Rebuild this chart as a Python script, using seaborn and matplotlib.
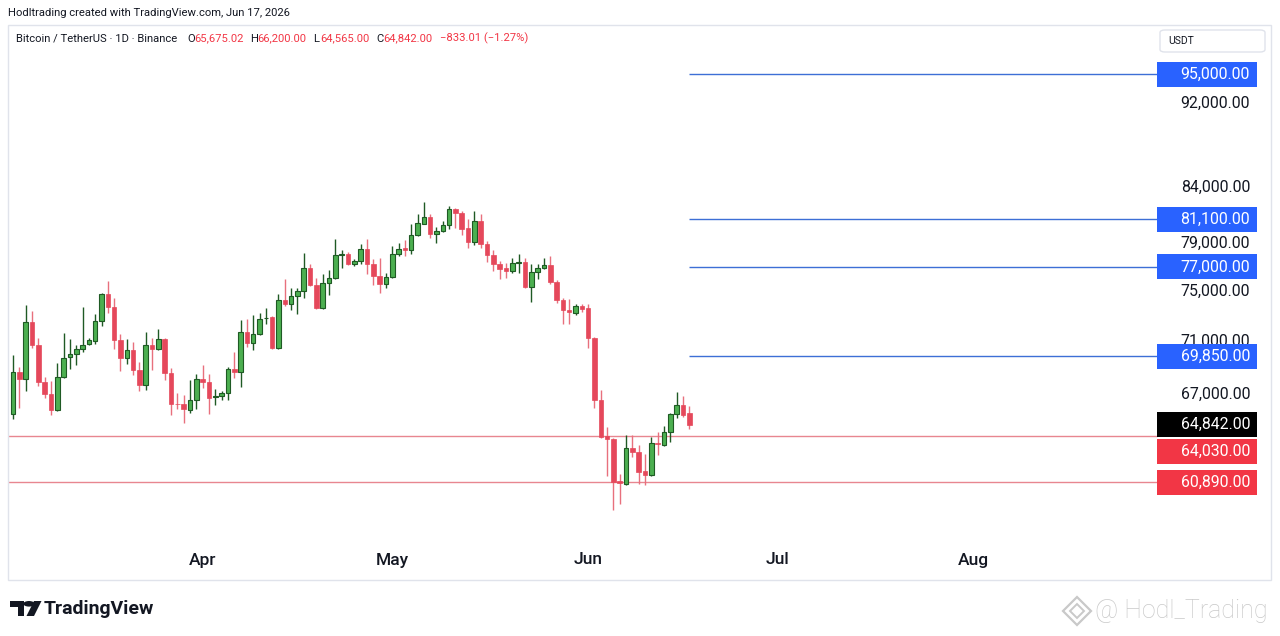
import numpy as np
import pandas as pd
import matplotlib
matplotlib.use("Agg")
import matplotlib.pyplot as plt
import matplotlib.dates as mdates
from matplotlib.patches import Rectangle, FancyBboxPatch, Polygon, Circle
import seaborn as sns

sns.set_theme(style="white")
plt.rcParams['font.family'] = ['Roboto', 'DejaVu Sans']

# ---------------- data ----------------
START_DATE = "2026-03-02"
opens = [65630, 68690, 68170, 72520, 70730, 67950, 67070, 65850, 68320, 69820,
         70040, 70430, 70810, 71040, 72600, 74750, 73710, 71120, 69740, 70350,
         68840, 67730, 70730, 70430, 71190, 68620, 66350, 66280, 65900, 66640,
         68170, 67950, 66800, 66860, 67150, 68920, 68690, 71740, 70880, 71580,
         72800, 72910, 70500, 74270, 73950, 74590, 75000, 76890, 75480, 73630,
         75650, 76060, 77990, 78060, 77220, 77470, 78490, 77220, 76220, 75570,
         76140, 78060, 78570, 78400, 79690, 80650, 81260, 79780, 80040, 80560,
         81970, 81610, 80300, 79090, 80910, 78920, 77980, 77220, 76890, 76640,
         77330, 77390, 75320, 76560, 76890, 77140, 75730, 74270, 73470, 73230,
         73790, 73600, 71270, 66640, 64020, 63810, 60960, 60770, 63190, 62910,
         61630, 61360, 63530, 63390, 64290, 65630, 66210, 65675.02]
highs = [69970, 69060, 73870, 73390, 71270, 68320, 68030, 69370, 71660, 71190,
         70730, 73710, 71270, 73150, 74800, 75810, 74430, 71580, 71190, 70960,
         69440, 71740, 71270, 71970, 71270, 68990, 67150, 67000, 68100, 68540,
         69210, 68540, 67440, 67290, 69060, 70200, 72670, 72750, 73070, 73230,
         73630, 72990, 74750, 75980, 75240, 75240, 78150, 77220, 76060, 76390,
         76720, 79340, 78400, 78230, 77640, 78920, 79340, 77640, 77730, 76470,
         78740, 79000, 79260, 80650, 81520, 82680, 81520, 80380, 80910, 82320,
         82140, 81790, 81080, 81790, 81520, 79170, 78400, 77470, 77310, 77730,
         78060, 77730, 77220, 77220, 77730, 77900, 75900, 74430, 74350, 73950,
         73950, 73950, 71350, 67370, 64650, 63880, 61430, 64090, 64090, 63390,
         62780, 63950, 64290, 64710, 65700, 67220, 66860, 66200.00]
lows = [65210, 66060, 67290, 70500, 67660, 66780, 65560, 65780, 68250, 68920,
        69210, 70200, 70730, 70810, 72200, 73230, 70430, 68770, 69290, 68470,
        67290, 67370, 68840, 70350, 68100, 65490, 65920, 64930, 65700, 65920,
        67510, 65630, 66210, 66640, 66570, 68250, 67580, 70580, 70350, 71500,
        72360, 70430, 70430, 73790, 73470, 73150, 74430, 75400, 73550, 73550,
        74670, 75980, 76890, 77140, 77060, 77220, 76390, 75480, 74830, 75240,
        76060, 77900, 77900, 78060, 79600, 80650, 79430, 79000, 79950, 80210,
        80300, 79690, 78570, 78830, 78570, 77390, 76640, 75980, 76060, 76470,
        76470, 75240, 74110, 75980, 76810, 75570, 74030, 72360, 72360, 73070,
        73310, 70500, 66060, 63900, 61300, 59080, 59460, 60700, 62580, 60770,
        60700, 61300, 62710, 63320, 63600, 65280, 65350, 64565.00]
closes = [68690, 68170, 72520, 70730, 67950, 67070, 65850, 68320, 69740, 70040,
          70430, 70730, 71120, 72600, 74750, 73710, 71120, 69740, 70350, 68840,
          67730, 70730, 70430, 71190, 68620, 66350, 66280, 65920, 66640, 68170,
          67950, 66780, 66860, 67150, 68920, 68690, 71740, 70880, 71580, 72750,
          72830, 70500, 74270, 73950, 74590, 75000, 76890, 75480, 73630, 75650,
          76060, 77980, 78060, 77220, 77470, 78490, 77220, 76220, 75570, 76140,
          78060, 78490, 78400, 79690, 80730, 81260, 79780, 80040, 80560, 81970,
          81610, 80210, 79090, 80910, 78920, 77980, 77220, 76810, 76640, 77310,
          77390, 75320, 76560, 76890, 77140, 75730, 74270, 73470, 73310, 73790,
          73550, 71270, 66640, 63950, 63810, 60900, 60830, 63190, 62910, 61570,
          61360, 63530, 63460, 64290, 65630, 66210, 65560, 64842.00]

resistance_levels = [95000, 81100, 77000, 69850]
support_levels = [64030, 60890]
price_ticks = [92000, 84000, 79000, 75000, 71000, 67000]
month_ticks = ["2026-04-01", "2026-05-01", "2026-06-01", "2026-07-01", "2026-08-01"]
month_labels = ["Apr", "May", "Jun", "Jul", "Aug"]

header_text = "Hodltrading created with TradingView.com, Jun 17, 2026"
symbol_text = "Bitcoin / TetherUS · 1D · Binance"
ohlc_parts = [("O", "65,675.02"), ("H", "66,200.00"), ("L", "64,565.00"), ("C", "64,842.00")]
change_text = "−833.01 (−1.27%)"

# ---------------- styling ----------------
W, H = 1280, 636
GREEN = "#4caf50"
GREEN_EDGE = "#1f5a24"
RED = "#e5485b"
RED_WICK = "#e8707d"
BLUE_LINE = "#3d6fd6"
RED_LINE = "#e88690"
TXT = "#131722"
FRAME = "#e0e3eb"

def fx(px):
    return px / W

def fy(py):
    return 1 - py / H

fig = plt.figure(figsize=(12.8, 6.36), dpi=100)
fig.patch.set_facecolor("white")
ax = fig.add_axes([fx(8), fy(540), fx(1150) - fx(8), fy(25) - fy(540)])
ax.set_facecolor("white")
for s in ax.spines.values():
    s.set_visible(False)

df = pd.DataFrame({"date": pd.date_range(START_DATE, periods=len(opens), freq="D"),
                   "open": opens, "high": highs, "low": lows, "close": closes})
df["x"] = mdates.date2num(df["date"])
up = df["close"] >= df["open"]
dn = ~up

ax.set_yscale("log")
ax.set_ylim(57183, 100210)
x0 = df["x"].iloc[0]
xl = df["x"].iloc[-1]
ax.set_xlim(x0 - 0.8, xl + 72.9)

# wicks
ax.vlines(df.loc[up, "x"], df.loc[up, "low"], df.loc[up, "high"], color=GREEN_EDGE, lw=1.0, zorder=2)
ax.vlines(df.loc[dn, "x"], df.loc[dn, "low"], df.loc[dn, "high"], color=RED_WICK, lw=1.0, zorder=2)
# bodies
ax.bar(df.loc[up, "x"], (df.loc[up, "close"] - df.loc[up, "open"]).clip(lower=40),
       bottom=df.loc[up, "open"], width=0.72, color=GREEN, edgecolor=GREEN_EDGE, linewidth=0.8, zorder=3)
ax.bar(df.loc[dn, "x"], (df.loc[dn, "close"] - df.loc[dn, "open"]).clip(upper=-40),
       bottom=df.loc[dn, "open"], width=0.72, color=RED, edgecolor=RED, linewidth=0.5, zorder=3)

# level lines
x_right = xl + 74.0
for lv in resistance_levels:
    ax.hlines(lv, xl, x_right, color=BLUE_LINE, lw=1.0, zorder=1, clip_on=False)
for lv in support_levels:
    ax.hlines(lv, x0 - 0.8, x_right, color=RED_LINE, lw=1.0, zorder=1, clip_on=False)

# x axis
ax.set_yticks([])
ax.yaxis.set_minor_locator(matplotlib.ticker.NullLocator())
ax.set_xticks(mdates.date2num(pd.to_datetime(month_ticks)))
ax.set_xticklabels(month_labels, fontsize=12.5, color=TXT, fontweight="medium")
ax.tick_params(axis="x", length=0, pad=9)

# price axis tick labels
PFS = 11.4
for t in price_ticks:
    ax.annotate(f"{t:,.2f}", xy=(fx(1250), t), xycoords=("figure fraction", "data"),
                ha="right", va="center", fontsize=PFS, color=TXT, annotation_clip=False, zorder=4)

# price label boxes with simple collision handling
labels = [(v, "#2962ff") for v in resistance_levels] + [(closes[-1], "#000000")] + [(v, "#f23645") for v in support_levels]
def pix_from_top(v):
    return H - ax.transData.transform((xl, v))[1]
items = sorted([(pix_from_top(v), v, c) for v, c in labels])
placed = []
BOX_H = 25
for yy, v, c in items:
    if placed and yy < placed[-1][0] + BOX_H + 2:
        yy = placed[-1][0] + BOX_H + 2
    placed.append((yy, v, c))
for yy, v, c in placed:
    fig.patches.append(Rectangle((fx(1157), fy(yy + BOX_H / 2)), fx(100), BOX_H / H,
                                 transform=fig.transFigure, facecolor=c, edgecolor="none", zorder=5))
    fig.text(fx(1250), fy(yy), f"{v:,.2f}", ha="right", va="center", fontsize=PFS,
             color="white", zorder=6)

# frame
fig.patches.append(Rectangle((fx(8), fy(580)), fx(1271) - fx(8), fy(25) - fy(580),
                             transform=fig.transFigure, fill=False, edgecolor=FRAME, lw=1.0, zorder=0))
# USDT box
fig.patches.append(FancyBboxPatch((fx(1160), fy(52)), fx(105), 22 / H,
                                  boxstyle="round,pad=0,rounding_size=0.004",
                                  transform=fig.transFigure, facecolor="white", edgecolor=FRAME, lw=1.0, zorder=5))
fig.text(fx(1168), fy(41), "USDT", ha="left", va="center", fontsize=7.5, color=TXT, zorder=6)

# header texts
HFS = 8.1
fig.text(fx(8), fy(13), header_text, ha="left", va="center", fontsize=HFS, color=TXT)
fig.text(fx(16), fy(38.5), symbol_text, ha="left", va="center", fontsize=HFS, color=TXT)
letter_x = [187, 250, 313, 376]
for (letter, val), lx in zip(ohlc_parts, letter_x):
    fig.text(fx(lx), fy(38.5), letter, ha="left", va="center", fontsize=HFS, color=TXT)
    fig.text(fx(lx + 7), fy(38.5), val, ha="left", va="center", fontsize=HFS, color="#f23645")
fig.text(fx(440), fy(38.5), change_text, ha="left", va="center", fontsize=HFS, color="#f23645")

# TradingView logo + text
def fig_poly(pts, **kw):
    fig.patches.append(Polygon([(fx(a), fy(b)) for a, b in pts], closed=True,
                               transform=fig.transFigure, **kw))
fig_poly([(10, 601), (24, 601), (24, 616), (18, 616), (18, 606.5), (10, 606.5)], facecolor=TXT, edgecolor="none")
fig.patches.append(Circle((fx(29), fy(603.8)), 2.8 / H, transform=fig.transFigure, facecolor=TXT, edgecolor="none"))
fig_poly([(34, 601), (41.5, 601), (34, 616), (26.5, 616)], facecolor=TXT, edgecolor="none")
fig.text(fx(44), fy(608.5), "TradingView", ha="left", va="center", fontsize=14, fontweight="bold", color=TXT)

# watermark
WM = "#c9c9c9"
fig_poly([(1077, 597), (1091, 611), (1077, 625), (1063, 611)], facecolor="none", edgecolor=WM, lw=1.6)
fig_poly([(1077, 604), (1084, 611), (1077, 618), (1070, 611)], facecolor="none", edgecolor=WM, lw=1.4)
fig.text(fx(1095), fy(611), "@ Hodl_Trading", ha="left", va="center", fontsize=18,
         fontweight="light", color=WM)

fig.savefig("out.png", dpi=100, facecolor="white")
